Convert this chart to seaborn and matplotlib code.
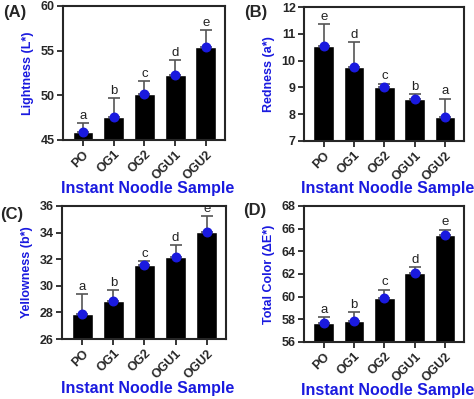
import numpy as np
import pandas as pd
import seaborn as sns
import matplotlib.pyplot as plt

sns.set_style("ticks")
plt.rcParams["font.family"] = ["Liberation Sans", "DejaVu Sans"]

# Data
samples = ["PO", "OG1", "OG2", "OGU1", "OGU2"]
lightness = [45.85, 47.6, 50.1, 52.3, 55.4]
lightness_err = [1.0, 2.1, 1.5, 1.6, 1.9]
redness = [10.56, 9.77, 9.01, 8.57, 7.88]
redness_err = [0.79, 0.91, 0.13, 0.18, 0.70]
yellowness = [27.88, 28.88, 31.56, 32.19, 34.02]
yellowness_err = [1.5, 0.8, 0.3, 0.85, 1.23]
total_color = [57.65, 57.85, 59.91, 62.1, 65.47]
total_color_err = [0.55, 0.8, 0.71, 0.5, 0.44]

letters_a = ["a", "b", "c", "d", "e"]
letters_b = ["e", "d", "c", "b", "a"]

panels = [
    ("(A)", "Lightness (L*)", lightness, lightness_err, letters_a, (45, 60), [45, 50, 55, 60]),
    ("(B)", "Redness (a*)", redness, redness_err, letters_b, (7, 12), [7, 8, 9, 10, 11, 12]),
    ("(C)", "Yellowness (b*)", yellowness, yellowness_err, letters_a, (26, 36), [26, 28, 30, 32, 34, 36]),
    ("(D)", "Total Color (\u0394E*)", total_color, total_color_err, letters_a, (56, 68), [56, 58, 60, 62, 64, 66, 68]),
]

W, H = 474, 399
# axes boxes in pixels: left, top, right, bottom
boxes = [(63, 6, 225, 140), (304, 7, 464, 141), (62, 206, 226, 339), (304, 206, 464, 342)]
# panel tag positions (px) and x-label centre y (px)
tags = [(3, 13), (244, 13), (0, 214), (243, 211)]
xlabel_y = [188, 189, 388, 390]

fig = plt.figure(figsize=(W / 100, H / 100), dpi=100)
blue = "#1a1adf"

for (tag, ylab, vals, errs, lets, ylim, yticks), (l, t, r, b), (tx, ty), xly in zip(panels, boxes, tags, xlabel_y):
    ax = fig.add_axes([l / W, 1 - b / H, (r - l) / W, (b - t) / H])
    df = pd.DataFrame({"sample": samples, "value": vals})
    sns.barplot(data=df, x="sample", y="value", color="black", width=0.68,
                errorbar=None, ax=ax, saturation=1)
    x = np.arange(len(samples))
    ax.errorbar(x, vals, yerr=[np.zeros(len(errs)), errs], fmt="none",
                ecolor="#555555", elinewidth=1.2, capsize=4, capthick=1.2, zorder=3)
    ax.scatter(x, vals, color=blue, s=38, zorder=4)
    for xi, v, e, s in zip(x, vals, errs, lets):
        ax.text(xi, v + e + (ylim[1] - ylim[0]) * 0.01, s, ha="center", va="bottom",
                fontsize=9.5, color="#222222")
    ax.set_ylim(*ylim)
    ax.set_yticks(yticks)
    ax.set_xlim(-0.65, 4.62)
    ax.set_ylabel(ylab, color=blue, fontsize=9, fontweight="bold")
    ax.set_xlabel("Instant Noodle Sample", color=blue, fontsize=11.5, fontweight="bold")
    ax.yaxis.set_label_coords(-35 / (r - l), 0.5)
    ax.yaxis.label.set_ha("center")
    ax.yaxis.label.set_va("center")
    ax.xaxis.set_label_coords(0.52, -(xly - b) / (b - t))
    ax.xaxis.label.set_va("center")
    ax.set_xticks(x)
    ax.set_xticklabels(samples, rotation=45, ha="right", rotation_mode="anchor")
    for lbl in ax.get_xticklabels() + ax.get_yticklabels():
        lbl.set_fontweight("bold")
        lbl.set_fontsize(9)
    ax.tick_params(width=1.3, length=4, pad=2)
    for sp in ax.spines.values():
        sp.set_linewidth(1.5)
        sp.set_visible(True)
    fig.text(tx / W, 1 - ty / H, tag, fontsize=12, fontweight="bold",
             ha="left", va="center")

fig.savefig("out.png", dpi=100)
